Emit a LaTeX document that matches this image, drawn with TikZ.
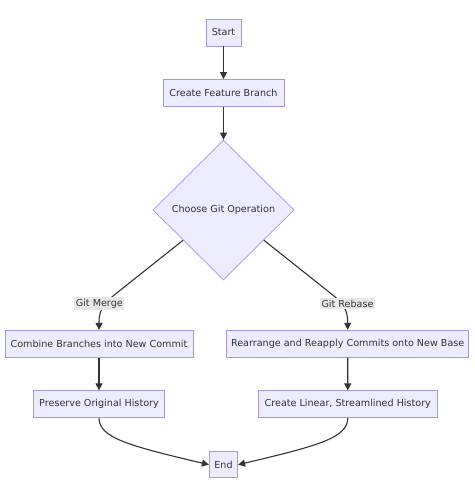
\documentclass[tikz,border=0pt]{standalone}
\usepackage{fontspec}
\setmainfont{DejaVu Sans}
\usetikzlibrary{shapes.geometric,arrows.meta,calc}
\definecolor{nodefill}{HTML}{ECECFF}
\definecolor{nodeborder}{HTML}{A796E0}
\definecolor{lineclr}{HTML}{333333}
\definecolor{lblbg}{HTML}{E8E8E8}
\tikzset{
  txt/.style={text=lineclr, font=\fontsize{9.6}{11}\selectfont},
  box/.style={draw=nodeborder, fill=nodefill, line width=0.7pt, rectangle, inner sep=0pt, minimum height=27pt, txt},
  dia/.style={draw=nodeborder, fill=nodefill, line width=0.7pt, diamond, inner sep=0pt, minimum width=141pt, minimum height=140pt, txt},
  lbl/.style={fill=lblbg, inner sep=1.5pt, txt},
  arr/.style={draw=lineclr, line width=1.1pt, -{Triangle[length=7pt,width=7pt]}},
}
\begin{document}
\begin{tikzpicture}[x=1pt,y=-1pt]
\useasboundingbox (0,0) rectangle (474,497);
\node[box, minimum width=35pt] (start) at (223.5,32.5) {Start};
\node[box, minimum width=121pt] (cfb) at (223.5,93) {Create Feature Branch};
\node[dia] (choose) at (223.5,210) {Choose Git Operation};
\node[box, minimum width=188pt] (comb) at (99,343.7) {Combine Branches into New Commit};
\node[box, minimum width=242pt] (rear) at (347.7,343.7) {Rearrange and Reapply Commits onto New Base};
\node[box, minimum width=131pt] (pres) at (99,404.2) {Preserve Original History};
\node[box, minimum width=179pt] (lin) at (347.8,404.2) {Create Linear, Streamlined History};
\node[box, minimum width=28.5pt, minimum height=26pt] (end) at (223.5,464.7) {End};

\coordinate (dl) at ($(choose.west)!0.43!(choose.south)$);
\coordinate (dr) at ($(choose.east)!0.43!(choose.south)$);

\draw[arr] (start) -- (cfb);
\draw[arr] (cfb) -- (choose);
\draw[arr] (dl) -- (113,296) .. controls (100,307) and (99,315) .. (comb.north);
\draw[arr] (dr) -- (334,296) .. controls (347,307) and (347.7,315) .. (rear.north);
\node[lbl] (gm) at (99.3,303.5) {Git Merge};
\node[lbl] (gr) at (347.5,303.5) {Git Rebase};
\draw[arr] (comb) -- (pres);
\draw[arr] (rear) -- (lin);
\draw[arr] (pres.south) .. controls (99,438) and (130,446) .. (end.west);
\draw[arr] (lin.south) .. controls (347.8,438) and (317,446) .. (end.east);
\end{tikzpicture}
\end{document}
